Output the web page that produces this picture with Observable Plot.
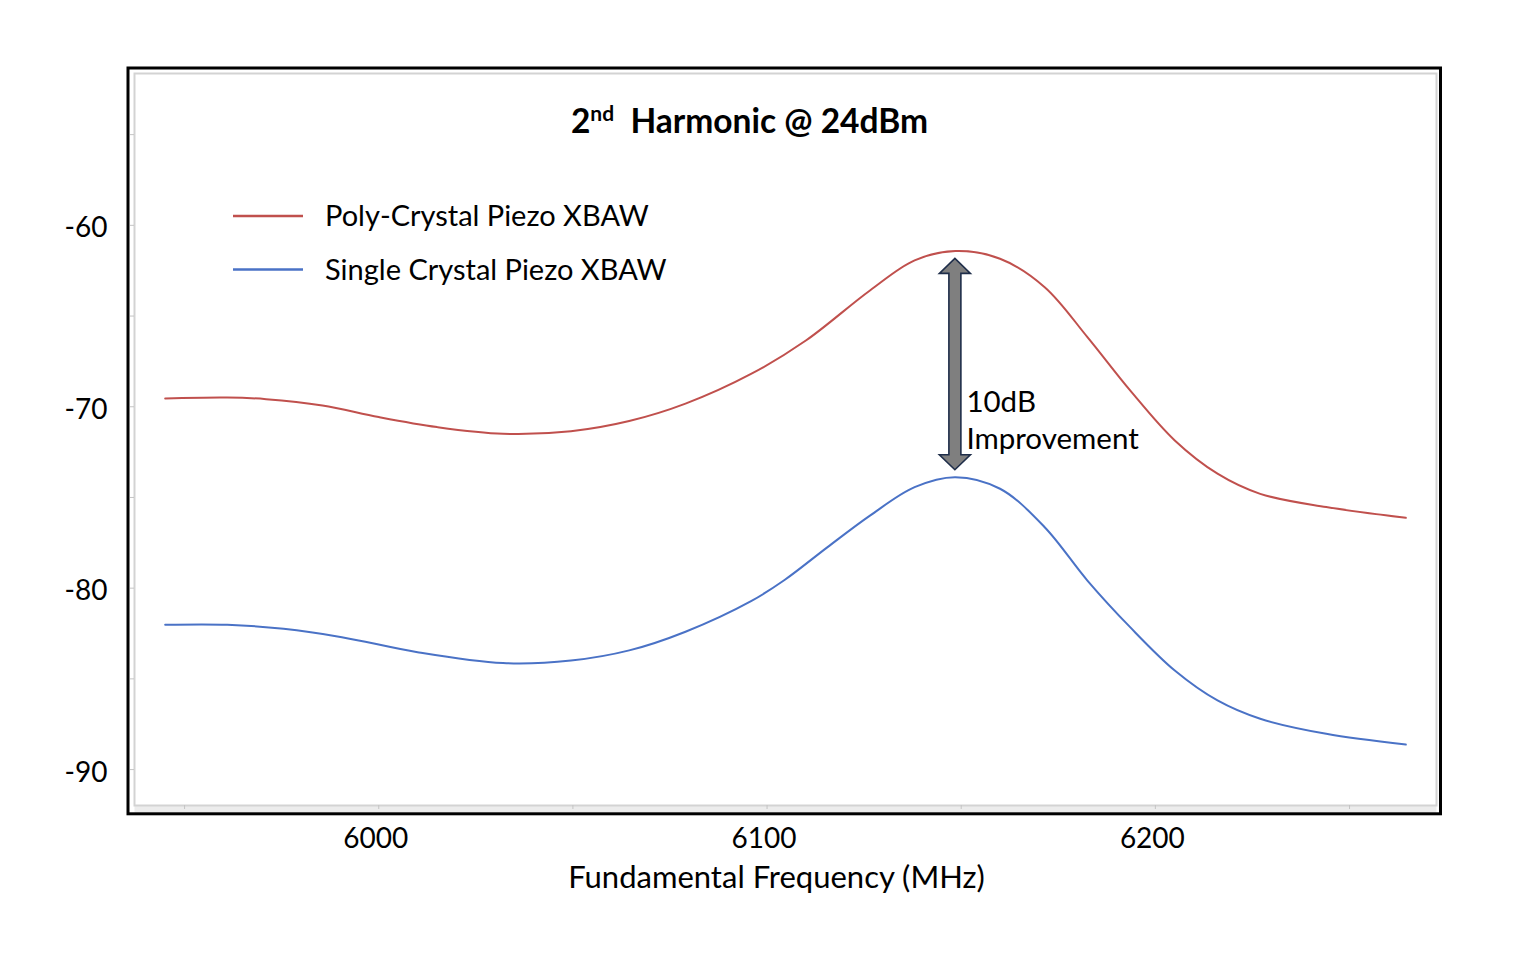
<!DOCTYPE html>
<html>
<head>
<meta charset="utf-8">
<script src="https://cdn.jsdelivr.net/npm/d3@7"></script>
<script src="https://cdn.jsdelivr.net/npm/@observablehq/plot@0.6"></script>
<style>
html, body { margin: 0; padding: 0; background: #fff; }
#chart svg { display: block; }
#chart svg text { font-family: Lato, "Open Sans", sans-serif; }
</style>
</head>
<body>
<div id="chart"></div>
<script>
// ---- data ----
const seriesNames = ["Poly-Crystal Piezo XBAW", "Single Crystal Piezo XBAW"];
const seriesColors = ["#c0504d", "#4a72c6"];

const polyFreq = [5945, 5961, 5971, 5985.5, 6000, 6015, 6032, 6049.5, 6064.5, 6079, 6096, 6110, 6126.5, 6138, 6148.5, 6160, 6171.5, 6182.5, 6193.5, 6205, 6216, 6227, 6244, 6264.5];
const polyDb   = [-69.54, -69.49, -69.58, -69.93, -70.57, -71.12, -71.49, -71.35, -70.79, -69.83, -68.18, -66.35, -63.59, -61.93, -61.42, -61.84, -63.41, -66.16, -69.10, -71.86, -73.69, -74.80, -75.53, -76.12];

const singleFreq = [5945, 5961, 5975.5, 5990.5, 6010, 6032, 6049.5, 6064.5, 6079, 6096, 6104.5, 6115.5, 6126.5, 6138, 6148.5, 6160, 6171.5, 6182.5, 6193.5, 6205, 6216, 6227, 6244, 6264.5];
const singleDb   = [-82.02, -82.02, -82.24, -82.70, -83.53, -84.13, -83.99, -83.43, -82.40, -80.70, -79.55, -77.75, -76.00, -74.43, -73.88, -74.52, -76.64, -79.58, -82.15, -84.54, -86.19, -87.20, -88.03, -88.62];

const xTickLabels = [6000, 6100, 6200];
const yTickLabels = [-60, -70, -80, -90];
const xMinorTicks = [5950, 6000, 6050, 6100, 6150, 6200, 6250];
const yMinorTicks = [-90, -85, -80, -75, -70, -65, -60, -55];

const titleParts = ["2", "nd", "\u00a0 Harmonic @ 24dBm"];
const xLabel = "Fundamental Frequency (MHz)";

const arrowFreq = 6148.5;
const arrowTopDb = -61.85;
const arrowBottomDb = -73.5;
const arrowLabel = ["10dB", "Improvement"];
const arrowLabelDb = [-69.76, -71.80];

// ---- table built from arrays ----
const rows = [];
polyFreq.forEach((f, i) => rows.push({series: seriesNames[0], f, db: polyDb[i]}));
singleFreq.forEach((f, i) => rows.push({series: seriesNames[1], f, db: singleDb[i]}));

const SVGNS = "http://www.w3.org/2000/svg";
function el(name, attrs) {
  const e = document.createElementNS(SVGNS, name);
  for (const k in attrs) e.setAttribute(k, attrs[k]);
  return e;
}

function arrowMark(index, scales, values, dims) {
  const x = scales.x(arrowFreq), y1 = scales.y(arrowTopDb), y2 = scales.y(arrowBottomDb);
  const sw = 6, hw = 15.5, hl = 15;
  const d = `M${x},${y1} L${x+hw},${y1+hl} L${x+sw},${y1+hl} L${x+sw},${y2-hl} L${x+hw},${y2-hl} L${x},${y2} L${x-hw},${y2-hl} L${x-sw},${y2-hl} L${x-sw},${y1+hl} L${x-hw},${y1+hl} Z`;
  return el("path", {d, fill: "#7f7f7f", stroke: "#1f2e4a", "stroke-width": 1.6, "stroke-linejoin": "miter"});
}

function legendMark(index, scales, values, dims) {
  const g = el("g", {"text-anchor": "start"});
  seriesNames.forEach((name, i) => {
    const y = dims.marginTop + 143 + 53.5 * i;
    g.appendChild(el("line", {x1: dims.marginLeft + 99, x2: dims.marginLeft + 169, y1: y, y2: y, stroke: seriesColors[i], "stroke-width": 2.5}));
    const t = el("text", {x: dims.marginLeft + 191, y, dy: "0.36em", "font-size": 29, fill: "#000", "text-anchor": "start"});
    t.textContent = name;
    g.appendChild(t);
  });
  return g;
}

function titleMark(index, scales, values, dims) {
  const t = el("text", {x: dims.marginLeft + 615.5, y: 133, "text-anchor": "middle", "font-size": 33.5, "font-weight": "bold", fill: "#000"});
  const a = el("tspan", {}); a.textContent = titleParts[0];
  const b = el("tspan", {dy: -12, "font-size": 21}); b.textContent = titleParts[1];
  const c = el("tspan", {dy: 12}); c.textContent = titleParts[2];
  t.appendChild(a); t.appendChild(b); t.appendChild(c);
  return t;
}

const chart = Plot.plot({
  width: 1536,
  height: 969,
  marginLeft: 134,
  marginRight: 100,
  marginTop: 73,
  marginBottom: 164,
  style: {background: "#fff", color: "#000"},
  x: {domain: [5937.1, 6272.4], label: null},
  y: {domain: [-91.98, -51.63], label: null},
  color: {domain: seriesNames, range: seriesColors},
  marks: [
    Plot.frame({fill: "#ececec", stroke: null, insetTop: 732, insetBottom: -7}),
    Plot.frame({stroke: "#d3d3d3", strokeWidth: 2}),
    Plot.frame({stroke: "#000", strokeWidth: 3, insetLeft: -6.5, insetTop: -5.5, insetRight: -4, insetBottom: -8.3}),
    Plot.axisY({ticks: yMinorTicks, tickSize: 4, text: null, label: null, stroke: "#c4c4c4"}),
    Plot.axisX({ticks: xMinorTicks, tickSize: 4, text: null, label: null, stroke: "#c4c4c4"}),
    Plot.axisY({ticks: yTickLabels, tickSize: 0, tickPadding: 27, fontSize: 28, dy: 3, label: null, tickFormat: d => String(d).replace("\u2212", "-")}),
    Plot.axisX({ticks: xTickLabels, tickSize: 0, tickPadding: 23, fontSize: 28, dx: -3, label: null, tickFormat: d => String(d)}),
    Plot.text([xLabel], {frameAnchor: "bottom", text: d => d, dx: -9, dy: 73, lineAnchor: "middle", fontSize: 31, fill: "#000"}),
    Plot.line(rows, {x: "f", y: "db", z: "series", stroke: "series", strokeWidth: 2, curve: "catmull-rom"}),
    arrowMark,
    Plot.text(arrowLabel, {x: () => arrowFreq, y: (d, i) => arrowLabelDb[i], text: d => d, dx: 11, textAnchor: "start", fontSize: 29.5, fill: "#000"}),
    legendMark,
    titleMark
  ]
});
document.getElementById("chart").appendChild(chart);
</script>
</body>
</html>
